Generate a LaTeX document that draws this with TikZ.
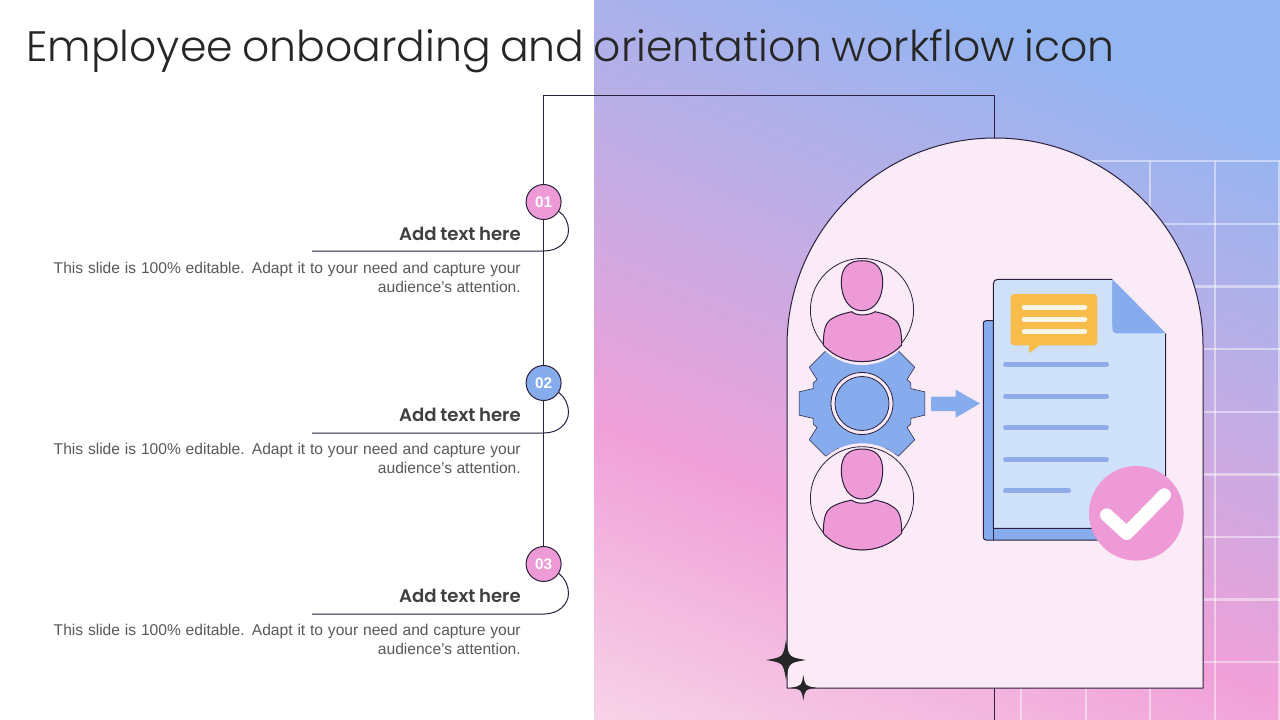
\documentclass[tikz,border=0pt]{standalone}
\usepackage{fontspec}
\setmainfont{Liberation Sans}
\newfontfamily\headfont[WordSpace=0.8]{Poppins Light}
\newfontfamily\subheadfont[WordSpace=0.85]{Poppins SemiBold}
\definecolor{inkline}{HTML}{2A1F3D}
\definecolor{archfill}{HTML}{FBEBF7}
\definecolor{pinkfill}{HTML}{EE9AD6}
\definecolor{bluefill}{HTML}{86ACED}
\definecolor{pagefill}{HTML}{CFE0F9}
\definecolor{barfill}{HTML}{8FABE8}
\definecolor{bubblefill}{HTML}{F7BC4A}
\definecolor{fadea}{HTML}{F7D3E7}
\definecolor{fadeb}{HTML}{F0A0D8}
\definecolor{fadec}{HTML}{BDAEE6}
\definecolor{faded}{HTML}{93B5F1}
\pgfdeclareverticalshading{bgfade}{100bp}{color(0bp)=(fadea); color(25bp)=(fadea); color(40bp)=(fadeb); color(55.3bp)=(fadec); color(68.2bp)=(faded); color(100bp)=(faded)}
\tikzstyle{slide}=[x=0.75pt, y=-0.75pt, line join=round]
\tikzstyle{rule}=[draw=inkline, line width=0.75pt]
\tikzstyle{gridline}=[draw=white, opacity=0.45, line width=1.9pt]
\tikzstyle{stepdot}=[circle, draw=inkline, line width=0.75pt, minimum size=26.25pt, inner sep=0, text=white, font=\bfseries\fontsize{11.5}{12}\selectfont]
\tikzstyle{steptitle}=[anchor=east, inner sep=0, text=black!75, font=\subheadfont\fontsize{13.6}{16}\selectfont]
\tikzstyle{stepbody}=[anchor=north east, inner sep=0, align=right, text=black!65, font=\fontsize{11.7}{14.25}\selectfont]
\tikzstyle{textbar}=[draw=barfill, line width=3.75pt, line cap=round]
\tikzstyle{bubblebar}=[draw=white!85!bubblefill, line width=3.4pt, line cap=round]
\newcommand{\bodytext}{\makebox[350.25pt][s]{This slide is 100\% editable. Adapt it to your  need and capture your}\\audience’s attention.}
\newcommand{\drawperson}[2]{
    \begin{scope}[shift={(#1, #2)}]
        \fill[archfill] (0, 0) circle (55);
        \draw[rule, line width=0.6pt, fill=archfill] (0, 0) circle (51.6);
        \draw[rule, fill=pinkfill] (0, -49.3) .. controls (-14, -49.3) and (-20.7, -42) .. (-20.7, -28) .. controls (-20.7, -12) and (-13, 0.7) .. (0, 0.7) .. controls (13, 0.7) and (20.7, -12) .. (20.7, -28) .. controls (20.7, -42) and (14, -49.3) .. cycle;
        \draw[rule, fill=pinkfill] (-38.7, 35) .. controls (-38.5, 20) and (-37, 12) .. (-29, 8) .. controls (-22, 4) and (-15, 3) .. (-10.3, 1.7) .. controls (-6, 6) and (6, 6) .. (13, 1.7) .. controls (18, 3) and (25, 4) .. (30, 8) .. controls (38, 12) and (39.5, 20) .. (39.7, 35) .. controls (28, 47) and (14, 51.6) .. (0, 51.6) .. controls (-14, 51.6) and (-28, 47) .. cycle;
    \end{scope}
}
\newcommand{\drawsparkle}[3]{
    \fill[black!85, shift={(#1, #2)}, scale=#3] (0, -1) .. controls (0.14, -0.14) .. (1, 0) .. controls (0.14, 0.14) .. (0, 1) .. controls (-0.14, 0.14) .. (-1, 0) .. controls (-0.14, -0.14) .. cycle;
}

\begin{document}
\begin{tikzpicture}[slide]
    \useasboundingbox (0, 0) rectangle (1280, 720);
    \fill[white] (0, 0) rectangle (1280, 720);
    \begin{scope}
        \clip (594, 0) rectangle (1280, 720);
        \shade[shading=bgfade, transform canvas={rotate around={-22:(937, 360)}}] (237, -102.5) rectangle (1637, 822.5);
    \end{scope}
    % Grid behind the arch.
    \draw[gridline] (1021, 161) -- (1280, 161);
    \draw[gridline] (1021, 224) -- (1280, 224);
    \draw[gridline] (1021, 286.5) -- (1280, 286.5);
    \draw[gridline] (1021, 349) -- (1280, 349);
    \draw[gridline] (1021, 412) -- (1280, 412);
    \draw[gridline] (1021, 474.5) -- (1280, 474.5);
    \draw[gridline] (1021, 537) -- (1280, 537);
    \draw[gridline] (1021, 599.5) -- (1280, 599.5);
    \draw[gridline] (1021, 662) -- (1280, 662);
    \draw[gridline] (1021, 161) -- (1021, 720);
    \draw[gridline] (1086, 161) -- (1086, 720);
    \draw[gridline] (1150, 161) -- (1150, 720);
    \draw[gridline] (1215, 161) -- (1215, 720);
    \draw[gridline] (1279, 161) -- (1279, 720);

    \node[anchor=base west, inner sep=0, text=black!85, font=\headfont\fontsize{31.9}{36}\selectfont] (title) at (26, 61.5) {Employee onboarding and orientation workflow icon};

    \coordinate (archtop) at (994.4, 138);
    \coordinate (archfoot) at (994.4, 688);
    \coordinate (corner) at (543.6, 95.7);
    \coordinate (pageend) at (994.4, 720);
    \draw[rule, fill=archfill] (787, 688) -- (787, 346) .. controls (787, 231) and (880, 138) .. (995, 138) .. controls (1110, 138) and (1203, 231) .. (1203, 346) -- (1203, 688) -- cycle;

    \node[stepdot, fill=pinkfill] (D1) at (543.6, 202) {01};
    \node[stepdot, fill=bluefill] (D2) at (543.6, 383) {02};
    \node[stepdot, fill=pinkfill] (D3) at (543.6, 564) {03};
    \coordinate (R1) at (312, 251);
    \coordinate (R2) at (312, 433);
    \coordinate (R3) at (312, 614);
    \draw[rule] (archtop) |- (corner) -- (D1.north);
    \draw[rule] (D1.south) -- (D2.north);
    \draw[rule] (D2.south) -- (D3.north);
    \draw[rule] (archfoot) -- (pageend);
    \draw[rule] (D1.-32) .. controls (565, 215) and (568.5, 223) .. (568.5, 230) .. controls (568.5, 242) and (558, 251) .. (544, 251) -- (R1);
    \draw[rule] (D2.-32) .. controls (565, 397) and (568.5, 405) .. (568.5, 412) .. controls (568.5, 424) and (558, 433) .. (544, 433) -- (R2);
    \draw[rule] (D3.-32) .. controls (565, 578) and (568.5, 586) .. (568.5, 593) .. controls (568.5, 605) and (558, 614) .. (544, 614) -- (R3);

    \node[steptitle] (T1) at (521, 234) {Add text here};
    \node[steptitle] (T2) at (521, 415) {Add text here};
    \node[steptitle] (T3) at (521, 596) {Add text here};
    \node[stepbody] (B1) at (521, 262) {\bodytext};
    \node[stepbody] (B2) at (521, 443) {\bodytext};
    \node[stepbody] (B3) at (521, 624) {\bodytext};

    % Gear with eight teeth, people on top of it.
    \begin{scope}[shift={(862, 403.5)}]
        \draw[rule, line width=0.4pt, fill=bluefill] (-17:51)
            \foreach \a in {0, 45, ..., 315} { -- (\a-17:51) -- (\a-10.5:64) -- (\a+10.5:64) -- (\a+17:51) -- (\a+22.5:53) } -- cycle;
        \draw[rule, line width=0.6pt, fill=archfill] (0, 0) circle (31);
        \draw[rule, line width=0.6pt, fill=bluefill] (0, 0) circle (27);
    \end{scope}
    \drawperson{862}{310}
    \drawperson{862}{498.3}
    \fill[bluefill] (931, 396.7) -- (955.7, 396.7) -- (955.7, 389.7) -- (980, 403.5) -- (955.7, 417.7) -- (955.7, 411) -- (931, 411) -- cycle;

    % Document.
    \draw[rule, fill=bluefill, rounded corners=2pt] (1130, 320.7) -- (983.3, 320.7) -- (983.3, 540) -- (1130, 540);
    \fill[pagefill] (1112.3, 279.3) -- (998, 279.3) .. controls (995, 279.3) and (993.3, 281) .. (993.3, 284) -- (993.3, 528.3) -- (1165.7, 528.3) -- (1165.7, 333.3) -- cycle;
    \draw[rule] (1165.7, 333.3) -- (1165.7, 528.3) -- (993.3, 528.3) -- (993.3, 284) .. controls (993.3, 281) and (995, 279.3) .. (998, 279.3) -- (1112.3, 279.3);
    \draw[rule] (993.3, 528.3) -- (993.3, 540);
    \fill[bluefill, rounded corners=3pt] (1112.3, 279.3) -- (1112.3, 333.3) -- (1165.7, 333.3) -- cycle;
    \fill[bluefill] (1112.3, 279.3) -- (1112.3, 325) -- (1165.7, 333.3) -- cycle;
    \fill[bubblefill, rounded corners=2.5pt] (1010.7, 294) rectangle (1097.3, 345.3);
    \fill[bubblefill] (1029, 345) -- (1029, 353.3) -- (1040, 345) -- cycle;
    \draw[bubblebar] (1024, 307.3) -- (1085, 307.3);
    \draw[bubblebar] (1024, 319.3) -- (1085, 319.3);
    \draw[bubblebar] (1024, 331.7) -- (1085, 331.7);
    \draw[textbar] (1005.5, 364.3) -- (1106.5, 364.3);
    \draw[textbar] (1005.5, 396.3) -- (1106.5, 396.3);
    \draw[textbar] (1005.5, 427.3) -- (1106.5, 427.3);
    \draw[textbar] (1005.5, 459.3) -- (1106.5, 459.3);
    \draw[textbar] (1005.5, 490.3) -- (1068.5, 490.3);
    \fill[pinkfill] (1136.3, 513.3) circle (47.3);
    \draw[white, line width=10pt, line cap=round] (1106.7, 515) -- (1126.7, 533.3) -- (1164.3, 495);

    \drawsparkle{786}{660}{20}
    \drawsparkle{803.3}{687.7}{12.7}
\end{tikzpicture}
\end{document}
